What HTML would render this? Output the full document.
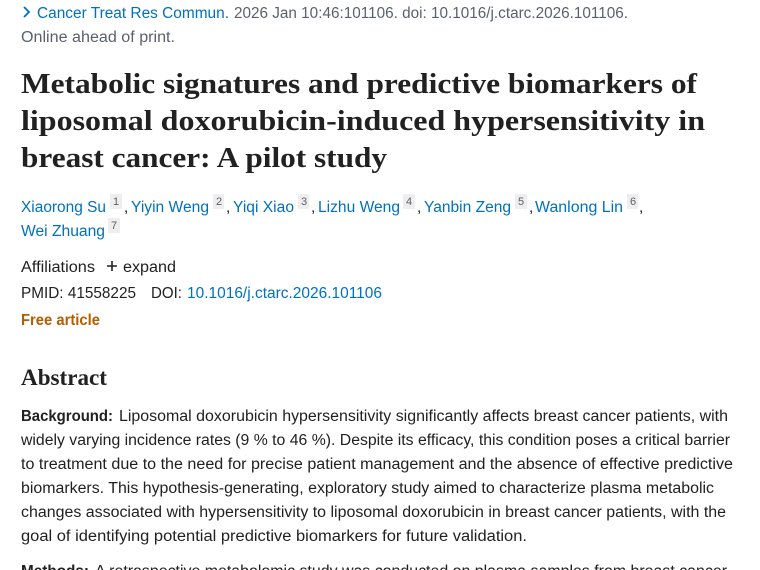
<!DOCTYPE html>
<html><head><meta charset="utf-8"><style>
html,body{margin:0;padding:0;background:#fff;width:760px;height:570px;overflow:hidden}
svg{display:block}
.s{font-family:"Liberation Sans",sans-serif;font-size:15.5px}
.t{font-family:"Liberation Serif",serif;font-weight:bold;font-size:29px;fill:#212121}
.b{fill:#0071bc}.g{fill:#5b616b}.k{fill:#212121}
</style></head><body>
<svg width="760" height="570" xmlns="http://www.w3.org/2000/svg">
<path d="M24 7 L29 12 L24 17" fill="none" stroke="#0071bc" stroke-width="1.8"/>
<text class="s b" x="37" y="18" textLength="192" lengthAdjust="spacingAndGlyphs">Cancer Treat Res Commun.</text>
<text class="s g" x="234" y="18" textLength="394" lengthAdjust="spacingAndGlyphs">2026 Jan 10:46:101106. doi: 10.1016/j.ctarc.2026.101106.</text>
<text class="s g" x="21" y="42" textLength="154" lengthAdjust="spacingAndGlyphs">Online ahead of print.</text>

<text class="t" x="21" y="93" textLength="676" lengthAdjust="spacingAndGlyphs">Metabolic signatures and predictive biomarkers of</text>
<text class="t" x="21" y="130" textLength="684" lengthAdjust="spacingAndGlyphs">liposomal doxorubicin-induced hypersensitivity in</text>
<text class="t" x="21" y="167" textLength="366" lengthAdjust="spacingAndGlyphs">breast cancer: A pilot study</text>

<g fill="#eeeeee">
<rect x="110" y="194" width="12" height="15"/><rect x="213" y="194" width="11" height="15"/><rect x="298" y="194" width="11" height="15"/><rect x="403" y="194" width="12" height="15"/><rect x="515" y="194" width="12" height="15"/><rect x="627" y="194" width="11" height="15"/><rect x="108" y="218" width="12" height="15"/>
</g>
<g class="s" fill="#5b616b" style="font-size:11px">
<text x="113" y="205">1</text><text x="216" y="205">2</text><text x="301" y="205">3</text><text x="406" y="205">4</text><text x="518" y="205">5</text><text x="630" y="205">6</text><text x="111" y="229">7</text>
</g>
<text class="s b" x="21" y="212" textLength="85" lengthAdjust="spacingAndGlyphs">Xiaorong Su</text>
<text class="s k" x="124" y="212">,</text>
<text class="s b" x="131" y="212" textLength="78" lengthAdjust="spacingAndGlyphs">Yiyin Weng</text>
<text class="s k" x="226" y="212">,</text>
<text class="s b" x="233" y="212" textLength="61" lengthAdjust="spacingAndGlyphs">Yiqi Xiao</text>
<text class="s k" x="311" y="212">,</text>
<text class="s b" x="318" y="212" textLength="82" lengthAdjust="spacingAndGlyphs">Lizhu Weng</text>
<text class="s k" x="417" y="212">,</text>
<text class="s b" x="424" y="212" textLength="87" lengthAdjust="spacingAndGlyphs">Yanbin Zeng</text>
<text class="s k" x="529" y="212">,</text>
<text class="s b" x="535" y="212" textLength="88" lengthAdjust="spacingAndGlyphs">Wanlong Lin</text>
<text class="s k" x="639" y="212">,</text>
<text class="s b" x="21" y="236" textLength="84" lengthAdjust="spacingAndGlyphs">Wei Zhuang</text>

<text class="s k" x="21" y="272" textLength="74" lengthAdjust="spacingAndGlyphs">Affiliations</text>
<path d="M107 266 H117 M112 261 V271" stroke="#212121" stroke-width="1.6"/>
<text class="s k" x="123" y="272" textLength="53" lengthAdjust="spacingAndGlyphs">expand</text>
<text class="s k" x="21" y="298" textLength="115" lengthAdjust="spacingAndGlyphs">PMID: 41558225</text>
<text class="s k" x="151" y="298" textLength="31" lengthAdjust="spacingAndGlyphs">DOI:</text>
<text class="s b" x="187" y="298" textLength="195" lengthAdjust="spacingAndGlyphs">10.1016/j.ctarc.2026.101106</text>
<text class="s" fill="#b85c00" x="21" y="325" textLength="79" lengthAdjust="spacingAndGlyphs" style="font-weight:600">Free article</text>

<text x="21" y="385" font-family="Liberation Serif,serif" font-size="23" font-weight="bold" fill="#212121" textLength="86" lengthAdjust="spacingAndGlyphs">Abstract</text>

<g class="s k">
<text x="21" y="421" font-weight="bold" textLength="92" lengthAdjust="spacingAndGlyphs">Background:</text>
<text x="119" y="421" textLength="609" lengthAdjust="spacingAndGlyphs">Liposomal doxorubicin hypersensitivity significantly affects breast cancer patients, with</text>
<text x="21" y="445" textLength="709" lengthAdjust="spacingAndGlyphs">widely varying incidence rates (9 % to 46 %). Despite its efficacy, this condition poses a critical barrier</text>
<text x="21" y="469" textLength="712" lengthAdjust="spacingAndGlyphs">to treatment due to the need for precise patient management and the absence of effective predictive</text>
<text x="21" y="493" textLength="693" lengthAdjust="spacingAndGlyphs">biomarkers. This hypothesis-generating, exploratory study aimed to characterize plasma metabolic</text>
<text x="21" y="517" textLength="705" lengthAdjust="spacingAndGlyphs">changes associated with hypersensitivity to liposomal doxorubicin in breast cancer patients, with the</text>
<text x="21" y="541" textLength="506" lengthAdjust="spacingAndGlyphs">goal of identifying potential predictive biomarkers for future validation.</text>
<text x="21" y="576" font-weight="bold" textLength="68" lengthAdjust="spacingAndGlyphs">Methods:</text>
<text x="95" y="576" textLength="632" lengthAdjust="spacingAndGlyphs">A retrospective metabolomic study was conducted on plasma samples from breast cancer</text>
</g>
</svg>
</body></html>
